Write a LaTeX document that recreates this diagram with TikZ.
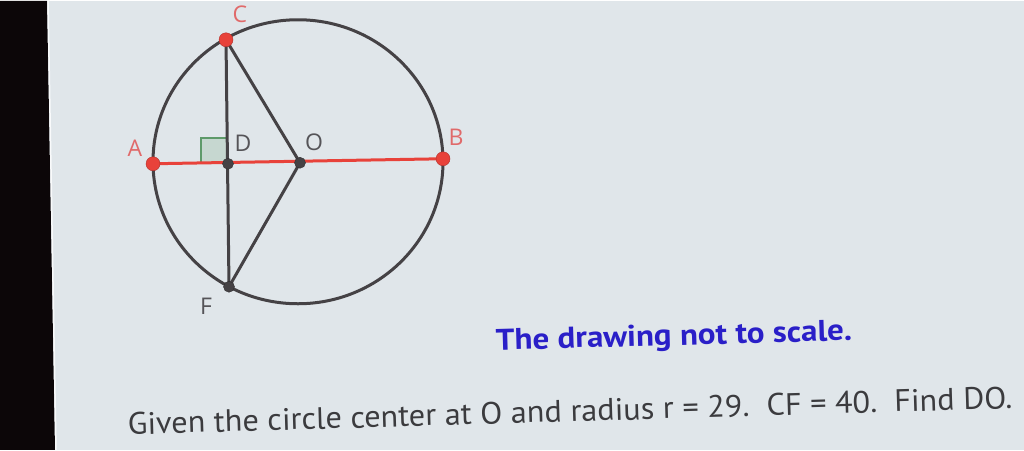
\documentclass[tikz,border=0pt]{standalone}
\usepackage{fontspec}
\setmainfont{PT Sans}
\newfontfamily\labelfont{Open Sans}
\definecolor{screen}{HTML}{E0E6EA}
\definecolor{bezel}{HTML}{0C0608}
\definecolor{pen}{HTML}{454245}
\definecolor{ptred}{HTML}{E8423A}
\definecolor{lblred}{HTML}{E06A6A}
\definecolor{lblgray}{HTML}{555458}
\definecolor{sqgreen}{HTML}{5E9A6A}
\definecolor{txtblue}{HTML}{2A1FC8}
\begin{document}
\begin{tikzpicture}[x=1pt, y=-1pt]
    \def\rx{145}
    \def\ry{142}
    \tikzset{dot/.style={circle, fill=pen, draw=pen!70!black, inner sep=0pt, minimum size=11pt},
             reddot/.style={dot, fill=ptred, draw=ptred!75!black, minimum size=14pt},
             lbl/.style={font=\labelfont\fontsize{23}{23}\selectfont, text=lblgray}}
    % screen and bezel
    \fill[screen] (0,0) rectangle (1024,449);
    \fill[bezel] (0,0) -- (47,0) -- (55,449) -- (0,449) -- cycle;
    \draw[white!80!screen, line width=1.5pt] (48,0) -- (56,449);
    \useasboundingbox (0,0) rectangle (1024,449);

    % right angle mark
    \filldraw[draw=sqgreen, fill=sqgreen!20!screen, line width=1.5pt] (201,162) rectangle (227,137);

    % circle
    \draw[pen, line width=3pt] (298,161) ellipse [x radius=\rx, y radius=\ry];

    \coordinate (a) at (153,163);
    \coordinate (b) at (443,158);
    \coordinate (c) at (226,39);
    \coordinate (d) at (228,163);
    \coordinate (o) at (300,162);
    \coordinate (f) at (229,286);

    \draw[pen, line width=3pt] (c) -- (f);
    \foreach \v in {c, f} {
        \draw[pen, line width=3pt] (o) -- (\v);
    }
    \draw[ptred, line width=3pt] (a) -- (b);

    \foreach \v in {d, o, f} {
        \node[dot] (\v dot) at (\v) {};
    }
    \foreach \v in {a, b, c} {
        \node[reddot] (\v dot) at (\v) {};
    }

    \node[lbl, text=lblred] (alab) at (135,148) {A};
    \node[lbl, text=lblred] (blab) at (456,137) {B};
    \node[lbl, text=lblred] (clab) at (240,14) {C};
    \node[lbl] (dlab) at (243,143) {D};
    \node[lbl] (olab) at (314,142) {O};
    \node[lbl] (flab) at (206,306) {F};

    % texts
    \node[rotate=1.6, xscale=1.1, text=txtblue, font=\fontsize{30}{30}\selectfont\bfseries] (note) at (674,337) {The drawing not to scale.};
    \node[rotate=1.7, xscale=1.04, text=lblgray!70!black, font=\fontsize{31}{31}\selectfont] (task) at (570,410) {Given the circle center at O and radius r = 29.\ \ CF = 40.\ \ Find DO.};
\end{tikzpicture}
\end{document}
